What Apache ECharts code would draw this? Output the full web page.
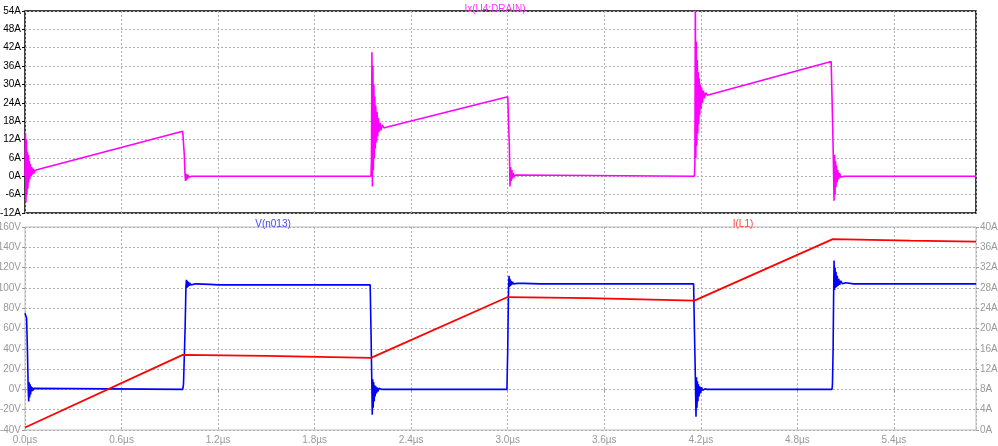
<!DOCTYPE html>
<html>
<head>
<meta charset="utf-8">
<script src="https://cdn.jsdelivr.net/npm/echarts@6/dist/echarts.min.js"></script>
<style>html,body{margin:0;padding:0;background:#fff}#c{width:998px;height:446px}</style>
</head>
<body>
<div id="c"></div>
<script>
// Ix(U4:DRAIN) [time µs, A]
const drainTime = [0,0.003,0.006,0.009,0.012,0.015,0.018,0.021,0.024,0.027,0.030,0.034,0.038,0.042,0.046,0.050,0.056,0.062,0.070,
  0.980,0.985,0.990,0.995,0.998,1.001,1.004,1.007,1.010,1.014,1.018,1.025,1.035,
  2.150,2.153,2.156,2.159,2.162,2.165,2.168,2.171,2.174,2.177,2.180,2.184,2.188,2.192,2.196,2.200,2.206,2.212,2.220,2.230,2.245,
  3.000,3.005,3.010,3.014,3.018,3.022,3.026,3.030,3.035,3.040,3.048,3.060,
  4.160,4.163,4.166,4.169,4.172,4.175,4.178,4.181,4.184,4.187,4.190,4.193,4.197,4.201,4.205,4.210,4.216,4.222,4.230,4.240,4.250,
  5.010,5.015,5.020,5.025,5.028,5.031,5.034,5.037,5.040,5.043,5.047,5.051,5.056,5.062,5.070,5.080,5.090,5.910];
const drainCurrent = [0,14,-8.5,12,-6,8,-4,7,-2,5,-1,4,0,3,0.5,2.5,1,2,1.5,
  14.7,14.5,7,0,-1.5,0.8,-1.2,0.6,-0.8,0.4,-0.3,0.2,0,
  0,5,40.5,-3.3,36,2,30,6,26,9,23,11,21,13,19,14.5,17.5,15,16.8,15.8,16,
  26,25.5,10,-3.3,3,-1.5,2,-0.8,1,-0.3,0.4,0,
  0,4,57,6,44,10,38,14,34,17,32,20,30,22,29,24,28,25.5,27.3,26.5,27,
  37.5,37,15,1,-8,7,-6,5,-3.5,3.5,-2,2,-1,1,-0.3,0.3,0,0];

// V(n013) [time µs, V]
const vTime = [0,0.005,0.010,0.015,0.020,0.023,0.026,0.029,0.032,0.035,0.038,0.042,0.046,0.050,0.056,0.065,
  0.980,0.985,0.995,1.000,1.003,1.006,1.009,1.012,1.015,1.019,1.023,1.028,1.035,1.045,1.060,1.150,1.200,
  2.145,2.150,2.155,2.158,2.161,2.164,2.167,2.170,2.173,2.176,2.180,2.184,2.188,2.193,2.200,2.210,2.220,
  2.995,3.000,3.005,3.008,3.011,3.014,3.017,3.021,3.025,3.030,3.036,3.045,3.060,3.100,3.200,
  4.155,4.160,4.165,4.170,4.173,4.176,4.179,4.182,4.185,4.189,4.193,4.198,4.204,4.212,4.225,4.240,
  5.015,5.018,5.022,5.025,5.028,5.031,5.034,5.037,5.040,5.044,5.048,5.052,5.057,5.063,5.070,5.080,5.100,5.150,5.910];
const vNode = [75,76,70,40,0,-12,7,-8,5,-5,3,-2,2,-1,1,0,
  0,5,60,100,108,100,107,101,106,102,105,103,104.5,103.5,104,103.5,103,
  103,60,10,-25,10,-18,7,-12,4,-7,3,-4,2,-2,1,-0.5,0,
  0,40,100,112,101,109,102,107,103,106,104,105.5,104.5,104.5,104,
  104,60,20,-27,12,-18,8,-12,5,-7,3,-4,2,-1,0.5,0,
  0,5,40,90,127,98,120,100,116,101,112,102,109,103,107,104,105,104,104];

// I(L1) [time µs, A]
const ilTime = [0,0.98,1.5,2.15,3.00,3.5,4.16,5.02,5.5,5.91];
const ilCurrent = [0.5,14.8,14.6,14.2,26.2,26.0,25.5,37.6,37.3,37.1];

const xTickLabels = ['0.0µs','0.6µs','1.2µs','1.8µs','2.4µs','3.0µs','3.6µs','4.2µs','4.8µs','5.4µs'];

const zip = (a,b) => a.map((t,i)=>[t,b[i]]);
const font = 'Liberation Sans';
const gridLine = {show:true,lineStyle:{color:'#b0b0b0',type:[2,2],width:1}};

const chart = echarts.init(document.getElementById('c'));
chart.setOption({
  animation:false,
  backgroundColor:'#fff',
  title:[
    {text:'Ix(U4:DRAIN)',left:490,top:-1,textAlign:'center',textStyle:{color:'#ff33ff',fontSize:10,fontWeight:'normal',fontFamily:font}},
    {text:'V(n013)',left:268,top:214,textAlign:'center',textStyle:{color:'#4444ff',fontSize:10,fontWeight:'normal',fontFamily:font}},
    {text:'I(L1)',left:738,top:214,textAlign:'center',textStyle:{color:'#ff4444',fontSize:10,fontWeight:'normal',fontFamily:font}}
  ],
  grid:[
    {left:25,right:22,top:11,height:202,show:true,borderColor:'#000',borderWidth:1.5,backgroundColor:'transparent',outerBoundsMode:'none',containLabel:false},
    {left:25,right:22,top:227,height:203,show:true,borderColor:'#bbb',borderWidth:1,backgroundColor:'transparent',outerBoundsMode:'none',containLabel:false}
  ],
  xAxis:[
    {type:'value',gridIndex:0,min:0,max:5.91,interval:0.6,axisLine:{show:false},axisTick:{show:false},axisLabel:{show:false},splitLine:gridLine},
    {type:'value',gridIndex:1,min:0,max:5.91,interval:0.6,axisLine:{show:false},
     axisTick:{show:true,length:3,lineStyle:{color:'#999'}},
     axisLabel:{color:'#999',fontSize:10,fontFamily:font,margin:5,showMaxLabel:false,
       formatter:v=>{const i=Math.round(v/0.6);return Math.abs(v-i*0.6)<1e-6?(xTickLabels[i]||''):'';}},
     splitLine:gridLine}
  ],
  yAxis:[
    {type:'value',gridIndex:0,min:-12,max:54,interval:6,axisLine:{show:false},
     axisTick:{show:true,length:3,lineStyle:{color:'#000'}},
     axisLabel:{color:'#000',fontSize:10,fontFamily:font,margin:4,formatter:v=>v+'A'},splitLine:gridLine},
    {type:'value',gridIndex:1,min:-40,max:160,interval:20,axisLine:{show:false},
     axisTick:{show:true,length:3,lineStyle:{color:'#999'}},
     axisLabel:{color:'#999',fontSize:10,fontFamily:font,margin:4,formatter:v=>v+'V'},splitLine:gridLine},
    {type:'value',gridIndex:1,position:'right',min:0,max:40,interval:4,axisLine:{show:false},
     axisTick:{show:true,length:3,lineStyle:{color:'#999'}},
     axisLabel:{color:'#999',fontSize:10,fontFamily:font,margin:4,formatter:v=>v+'A'},splitLine:{show:false}}
  ],
  series:[
    {name:'Ix(U4:DRAIN)',type:'line',xAxisIndex:0,yAxisIndex:0,data:zip(drainTime,drainCurrent),showSymbol:false,symbol:'none',clip:true,lineStyle:{color:'#ff00ff',width:1.6},itemStyle:{color:'#ff00ff'}},
    {name:'V(n013)',type:'line',xAxisIndex:1,yAxisIndex:1,data:zip(vTime,vNode),showSymbol:false,symbol:'none',clip:true,lineStyle:{color:'#0000ff',width:1.6},itemStyle:{color:'#0000ff'}},
    {name:'I(L1)',type:'line',xAxisIndex:1,yAxisIndex:2,data:zip(ilTime,ilCurrent),showSymbol:false,symbol:'none',clip:true,lineStyle:{color:'#ff0000',width:1.8},itemStyle:{color:'#ff0000'}}
  ]
});
</script>
</body>
</html>
